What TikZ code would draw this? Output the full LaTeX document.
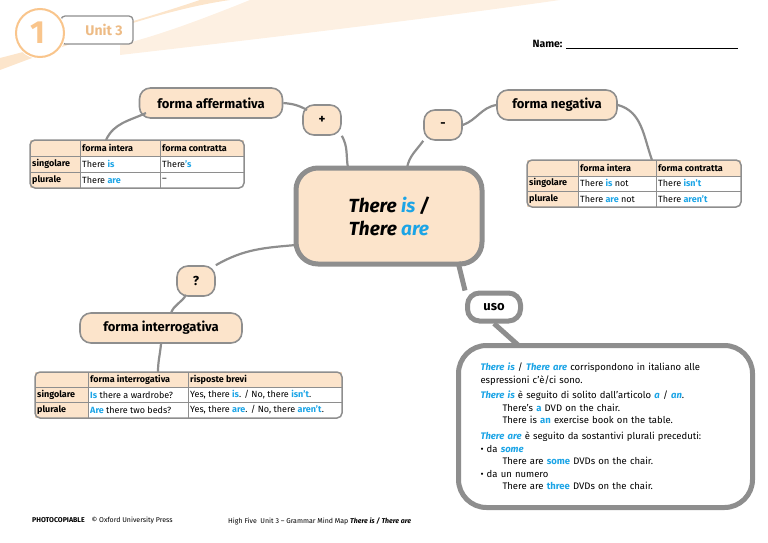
\documentclass[tikz,border=0pt]{standalone}
\usepackage{fontspec}
\setmainfont{Fira Sans}
\definecolor{peach}{HTML}{FCE4CB}
\definecolor{bord}{HTML}{8E8E8E}
\definecolor{blu}{HTML}{1BA4E6}
\definecolor{orng}{HTML}{F9C58C}
\newcommand{\bl}[1]{\textcolor{blu}{\textbf{#1}}}
\newcommand{\bi}[1]{\textcolor{blu}{\textbf{\itshape #1}}}
\begin{document}
\begin{tikzpicture}[x=1pt,y=-1pt,
  lbl/.style={draw=bord,line width=1.6pt,fill=peach,rounded corners=11pt,font=\bfseries\fontsize{13}{15}\selectfont},
  conn/.style={bord,line width=2.2pt},
  thk/.style={bord,line width=5pt},
  tc/.style={font=\fontsize{9}{10}\selectfont,anchor=west,inner sep=2pt},
  th/.style={tc,font=\bfseries\fontsize{9}{10}\selectfont}]
\useasboundingbox (0,0) rectangle (768,543);
% decoration
\fill[orng!45] (0,70) .. controls (80,40) and (160,10) .. (230,0) -- (200,0) .. controls (140,20) and (70,40) .. (0,58) -- cycle;
\fill[orng!25] (120,55) .. controls (250,40) and (420,20) .. (560,0) -- (250,0) .. controls (200,20) and (160,35) .. (120,45) -- cycle;
\node[draw=bord,line width=1.3pt,fill=white,rounded corners=4pt,minimum width=72pt,minimum height=28pt,font=\bfseries\fontsize{14}{15}\selectfont,text=orng!95!black] (unit) at (97,30) {\quad Unit 3};
\fill[white] (40,33) circle (26);
\draw[orng,line width=2pt] (40,33) circle (24);
\node[font=\bfseries\fontsize{32}{32}\selectfont,text=orng] (one) at (38,33) {1};
\node[font=\bfseries\fontsize{10.5}{12}\selectfont,anchor=east] (name) at (566,44) {Name:};
\coordinate (nl) at (738,48);
\draw[line width=0.8pt] (name.east |- nl) -- (nl);
% labels
\node[lbl,minimum width=143pt,minimum height=30pt] (aff) at (211,103) {forma affermativa};
\node[lbl,minimum width=38pt,minimum height=30pt] (plus) at (322,120) {+};
\node[lbl,minimum width=38pt,minimum height=30pt] (minus) at (443,125) {-};
\node[lbl,minimum width=120pt,minimum height=30pt] (neg) at (557,105) {forma negativa};
\node[lbl,minimum width=38pt,minimum height=30pt] (q) at (196,281) {?};
\node[lbl,minimum width=162pt,minimum height=30pt] (int) at (161,328) {forma interrogativa};
\node[draw=bord,line width=5pt,fill=white,rounded corners=12pt,minimum width=53pt,minimum height=28pt,font=\bfseries\fontsize{13}{14}\selectfont] (uso) at (494,307) {uso};
\node[draw=bord,line width=5pt,fill=peach,rounded corners=22pt,minimum width=186pt,minimum height=96pt,align=center,font=\bfseries\itshape\fontsize{19}{23}\selectfont] (c) at (389,216) {There \textcolor{blu}{is} /\\There \textcolor{blu}{are}};
% connectors
\coordinate (p1) at (307,110);
\coordinate (c1) at (348,168);
\coordinate (c2) at (407,168);
\coordinate (t2) at (652,160);
\coordinate (a1) at (146,113);
\coordinate (t1) at (106,140);
\coordinate (c3) at (296,245);
\coordinate (q1) at (186,295);
\coordinate (i1) at (171,313);
\coordinate (t3) at (158,372);
\draw[conn] (aff.east) to[out=-5,in=150] (p1);
\draw[conn] (plus.south east) to[out=-60,in=100] (c1);
\draw[conn] (minus.south west) to[out=-125,in=80] (c2);
\draw[conn] (minus.east) to[out=20,in=190] (neg.west);
\draw[conn] (neg.east) to[out=-15,in=110] (t2);
\draw[conn] (a1) to[out=205,in=65] (t1);
\draw[conn] (c3) to[out=185,in=30] (q.north east);
\draw[conn] (q1) to[out=-120,in=70] (i1);
\draw[conn] (int.south) to[out=-95,in=90] (t3);
% tables
\begin{scope}
\fill[peach] (30,140) rectangle (244,156); \fill[peach] (30,140) rectangle (80,188);
\draw[bord,line width=0.6pt] (80,140)--(80,188) (160,140)--(160,188) (30,156)--(244,156) (30,172)--(244,172);
\draw[bord,line width=1.5pt,rounded corners=5pt] (30,140) rectangle (244,188);
\node[th] at (80,148) {forma intera};
\node[th] at (160,148) {forma contratta};
\node[th] at (30,164) {singolare};
\node[th] at (30,180) {plurale};
\node[tc] at (80,164) {There \bl{is}};
\node[tc] at (160,164) {There\bl{’s}};
\node[tc] at (80,180) {There \bl{are}};
\node[tc] at (160,180) {–};
\end{scope}
\begin{scope}
\fill[peach] (527,160) rectangle (741,176); \fill[peach] (527,160) rectangle (578,207);
\draw[bord,line width=0.6pt] (578,160)--(578,207) (656,160)--(656,207) (527,176)--(741,176) (527,191)--(741,191);
\draw[bord,line width=1.5pt,rounded corners=5pt] (527,160) rectangle (741,207);
\node[th] at (578,168) {forma intera};
\node[th] at (656,168) {forma contratta};
\node[th] at (527,183) {singolare};
\node[th] at (527,199) {plurale};
\node[tc] at (578,183) {There \bl{is} not};
\node[tc] at (656,183) {There \bl{isn’t}};
\node[tc] at (578,199) {There \bl{are} not};
\node[tc] at (656,199) {There \bl{aren’t}};
\end{scope}
\begin{scope}
\fill[peach] (35,372) rectangle (342,387); \fill[peach] (35,372) rectangle (88,418);
\draw[bord,line width=0.6pt] (88,372)--(88,418) (188,372)--(188,418) (35,387)--(342,387) (35,402)--(342,402);
\draw[bord,line width=1.5pt,rounded corners=5pt] (35,372) rectangle (342,418);
\node[th] at (88,380) {forma interrogativa};
\node[th] at (188,380) {risposte brevi};
\node[th] at (35,395) {singolare};
\node[th] at (35,410) {plurale};
\node[tc] at (88,395) {\bl{Is} there a wardrobe?};
\node[tc] at (188,395) {Yes, there \bl{is}. / No, there \bl{isn’t}.};
\node[tc] at (88,410) {\bl{Are} there two beds?};
\node[tc] at (188,410) {Yes, there \bl{are}. / No, there \bl{aren’t}.};
\end{scope}
% uso bubble
\coordinate (cu) at (458,262);
\coordinate (bt) at (518,345);
\draw[thk] (cu) -- (uso.north west);
\draw[thk] (uso.south) -- (bt);
\node[draw=bord,line width=5pt,fill=white,rounded corners=28pt,minimum width=288pt,minimum height=162pt,anchor=north west,align=left,inner xsep=22pt,inner ysep=12pt,text width=250pt,font=\fontsize{9.5}{12.6}\selectfont] (bub) at (456,343) {%
\bi{There is} / \bi{There are} corrispondono in italiano alle\\espressioni c’è/ci sono.\\[3pt]
\bi{There is} è seguito di solito dall’articolo \bi{a} / \bi{an}.\\
\hspace*{22pt}There’s \bl{a} DVD on the chair.\\
\hspace*{22pt}There is \bl{an} exercise book on the table.\\[3pt]
\bi{There are} è seguito da sostantivi plurali preceduti:\\
• da \bi{some}\\
\hspace*{22pt}There are \bl{some} DVDs on the chair.\\
• da un numero\\
\hspace*{22pt}There are \bl{three} DVDs on the chair.};
% footer
\node[anchor=west,font=\fontsize{7}{8}\selectfont,inner sep=0pt] (f1) at (32,521) {\textbf{PHOTOCOPIABLE}\quad © Oxford University Press};
\node[anchor=west,font=\fontsize{7}{8}\selectfont,inner sep=0pt] (f2) at (228,521) {High Five\enspace Unit 3 – Grammar Mind Map \textbf{\itshape There is / There are}};
\end{tikzpicture}
\end{document}
